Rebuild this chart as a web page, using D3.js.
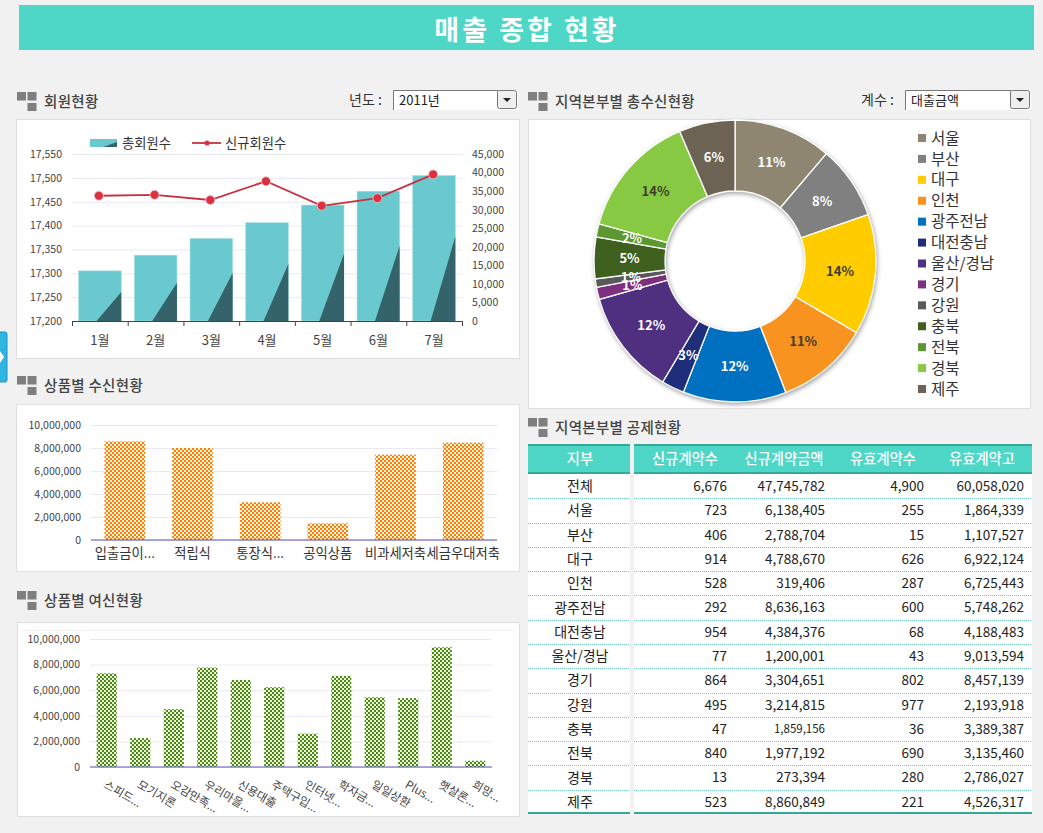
<!DOCTYPE html>
<html>
<head>
<meta charset="utf-8">
<script src="https://cdn.jsdelivr.net/npm/d3@7"></script>
<style>
    body { margin: 0; background: #f1f1f1; }
    svg { display: block; }
    text { font-family: "Noto Sans CJK KR", "Noto Sans", sans-serif; }
    .axis path { display: none; }
    .axis text { fill: #444; font-size: 10.5px; }
    .grid line { stroke: #e9e9f3; }
    .grid path { display: none; }
    .sec-title { font-size: 14.5px; font-weight: 500; fill: #444; letter-spacing: 0.3px; }
</style>
</head>
<body>
<div id="chart"></div>
<script>
// 회원현황
const months = ['1월', '2월', '3월', '4월', '5월', '6월', '7월'];
const totalMembers = [17305, 17338, 17373, 17406, 17443, 17472, 17505];
const newMembers = [33750, 34000, 32600, 37650, 31050, 33100, 39500];

// 지역본부별 총수신현황
const regions = ['서울', '부산', '대구', '인천', '광주전남', '대전충남', '울산/경남', '경기', '강원', '충북', '전북', '경북', '제주'];
const regionShares = [11.2, 8.4, 13.8, 10.6, 11.8, 2.6, 12, 1.4, 0.95, 4.75, 1.5, 14.3, 6.4];
const regionColors = ['#8f8672', '#808080', '#ffcc00', '#f9931f', '#0070c0', '#1f2e7a', '#4f2f80', '#7f2f80', '#58595b', '#3f5f1f', '#5c9731', '#88c944', '#6d6355'];
const darkLabelRegions = ['대구', '인천', '경북'];

// 상품별 수신현황
const depositNames = ['입출금이...', '적립식', '통장식...', '공익상품', '비과세저축', '세금우대저축'];
const depositValues = [8580000, 8000000, 3280000, 1450000, 7420000, 8460000];

// 상품별 여신현황
const loanNames = ['스피드...', '모기지론', '오감만족...', '우리마을...', '신용대출', '주택구입...', '인터넷...', '학자금...', '일일상환', 'Plus...', '햇살론...', '희망...'];
const loanValues = [7320000, 2260000, 4520000, 7770000, 6800000, 6230000, 2600000, 7120000, 5450000, 5380000, 9350000, 490000];

// 지역본부별 공제현황
const tableHeaders = ['지부', '신규계약수', '신규계약금액', '유효계약수', '유효계약고'];
const tableBranches = ['전체', '서울', '부산', '대구', '인천', '광주전남', '대전충남', '울산/경남', '경기', '강원', '충북', '전북', '경북', '제주'];
const newCounts = ['6,676', '723', '406', '914', '528', '292', '954', '77', '864', '495', '47', '840', '13', '523'];
const newAmounts = ['47,745,782', '6,138,405', '2,788,704', '4,788,670', '319,406', '8,636,163', '4,384,376', '1,200,001', '3,304,651', '3,214,815', '1,859,156', '1,977,192', '273,394', '8,860,849'];
const activeCounts = ['4,900', '255', '15', '626', '287', '600', '68', '43', '802', '977', '36', '690', '280', '221'];
const activeAmounts = ['60,058,020', '1,864,339', '1,107,527', '6,922,124', '6,725,443', '5,748,262', '4,188,483', '9,013,594', '8,457,139', '2,193,918', '3,389,387', '3,135,460', '2,786,027', '4,526,317'];

const svg = d3.select('#chart').append('svg')
    .attr('width', 1043)
    .attr('height', 833);

// checker patterns for the bars
const defs = svg.append('defs');
function checker(id, color, bg) {
    const p = defs.append('pattern')
        .attr('id', id)
        .attr('patternUnits', 'userSpaceOnUse')
        .attr('width', 4)
        .attr('height', 4);
    p.append('rect').attr('width', 4).attr('height', 4).attr('fill', bg);
    p.append('rect').attr('width', 2).attr('height', 2).attr('fill', color);
    p.append('rect').attr('x', 2).attr('y', 2).attr('width', 2).attr('height', 2).attr('fill', color);
}
checker('check-orange', '#ff8000', '#fff2e2');
checker('check-green', '#4a8a0c', '#eef6e2');

// title band
svg.append('rect')
    .attr('x', 19).attr('y', 5)
    .attr('width', 1015).attr('height', 45)
    .attr('fill', '#4ed6c6');
svg.append('text')
    .attr('x', 527).attr('y', 40)
    .attr('text-anchor', 'middle')
    .attr('fill', '#fff')
    .attr('font-size', 27)
    .attr('font-weight', 700)
    .attr('letter-spacing', 3)
    .text('매출 종합 현황');

function sectionTitle(x, y, label) {
    const g = svg.append('g').attr('transform', `translate(${x},${y})`);
    g.append('rect').attr('width', 9).attr('height', 8.5).attr('fill', '#7f7f7f');
    g.append('rect').attr('x', 10.5).attr('width', 9).attr('height', 8.5).attr('fill', '#7f7f7f');
    g.append('rect').attr('x', 10.5).attr('y', 11).attr('width', 9).attr('height', 8).attr('fill', '#7f7f7f');
    g.append('text').attr('class', 'sec-title').attr('x', 27).attr('y', 14.5).text(label);
}

function panel(x, y, w, h) {
    svg.append('rect')
        .attr('x', x + 0.5).attr('y', y + 0.5)
        .attr('width', w).attr('height', h)
        .attr('fill', '#fff')
        .attr('stroke', '#dedede');
}

function selectBox(labelX, boxX, boxW, y, label, value) {
    svg.append('text').attr('x', labelX).attr('y', y + 15).attr('font-size', 14).attr('fill', '#333').text(label);
    svg.append('rect').attr('x', boxX).attr('y', y).attr('width', boxW).attr('height', 20).attr('fill', '#fff');
    svg.append('path')
        .attr('d', `M${boxX + 0.5},${y + 20}V${y + 0.5}H${boxX + boxW - 20}`)
        .attr('fill', 'none').attr('stroke', '#777');
    svg.append('rect')
        .attr('x', boxX + boxW - 20.5).attr('y', y + 0.5)
        .attr('width', 19).attr('height', 18).attr('rx', 2)
        .attr('fill', '#efefef').attr('stroke', '#777');
    const cx = boxX + boxW - 11;
    svg.append('path')
        .attr('d', `M${cx - 4},${y + 8}h8l-4,4z`)
        .attr('fill', '#222');
    svg.append('text').attr('x', boxX + 6).attr('y', y + 14.5).attr('font-size', 13).attr('fill', '#222').text(value);
}

// left slide tab
svg.append('rect').attr('x', -4).attr('y', 332).attr('width', 11).attr('height', 50).attr('rx', 2)
    .attr('fill', '#2fb5e0').attr('stroke', '#1f8fc0');
svg.append('path').attr('d', 'M0,351l4,6l-4,6z').attr('fill', '#fff');

// ---- 회원현황 ----
sectionTitle(17, 92, '회원현황');
selectBox(349, 393, 125, 90, '년도 :', '2011년');
panel(16, 119, 503, 239);

const m1 = {left: 72, right: 462, top: 154, bottom: 321};
const x1 = d3.scaleBand().domain(months).range([m1.left, m1.right]).paddingInner(0.235).paddingOuter(0.12);
const y1 = d3.scaleLinear().domain([17200, 17550]).range([m1.bottom, m1.top]);
const y1r = d3.scaleLinear().domain([0, 45000]).range([m1.bottom, m1.top]);
const x1Step = d3.scaleBand().domain(months).range([m1.left, m1.right]);

svg.append('g')
    .attr('class', 'grid')
    .attr('transform', `translate(${m1.left},0)`)
    .call(d3.axisLeft(y1).ticks(7).tickSize(-(m1.right - m1.left)).tickFormat(''));

svg.append('g')
    .attr('class', 'axis')
    .attr('transform', `translate(${m1.left},0)`)
    .call(d3.axisLeft(y1).ticks(7).tickSize(0).tickPadding(10).tickFormat(d3.format(',')));

svg.append('g')
    .attr('class', 'axis')
    .attr('transform', `translate(${m1.right},0)`)
    .call(d3.axisRight(y1r).ticks(9).tickSize(0).tickPadding(10).tickFormat(d3.format(',')));

svg.append('g').selectAll('rect')
    .data(months)
    .join('rect')
    .attr('x', d => x1(d))
    .attr('y', (d, i) => y1(totalMembers[i]))
    .attr('width', x1.bandwidth())
    .attr('height', (d, i) => m1.bottom - y1(totalMembers[i]))
    .attr('fill', '#69c9cf')
    .attr('stroke', '#a8e0e2')
    .attr('stroke-width', 0.6);

// dark wedge in the corner of each bar
svg.append('g').selectAll('path')
    .data(months)
    .join('path')
    .attr('fill', '#35636a')
    .attr('d', (d, i) => {
        const left = x1(d), w = x1.bandwidth();
        const h = (m1.bottom - y1(totalMembers[i])) * 0.58;
        return `M${left + w * 0.42},${m1.bottom}L${left + w},${m1.bottom - h}V${m1.bottom}Z`;
    });

// x axis with ticks at the band edges
svg.append('line')
    .attr('x1', m1.left).attr('x2', m1.right)
    .attr('y1', m1.bottom + 0.5).attr('y2', m1.bottom + 0.5)
    .attr('stroke', '#444');
svg.append('g').selectAll('line')
    .data(months.concat(['end']))
    .join('line')
    .attr('x1', (d, i) => m1.left + i * x1Step.step() + 0.5)
    .attr('x2', (d, i) => m1.left + i * x1Step.step() + 0.5)
    .attr('y1', m1.bottom)
    .attr('y2', m1.bottom + 5)
    .attr('stroke', '#444');

const xAxis1 = svg.append('g')
    .attr('class', 'axis')
    .attr('transform', `translate(0,${m1.bottom + 9})`)
    .call(d3.axisBottom(x1Step).tickSize(0).tickPadding(6));
xAxis1.selectAll('text').style('font-size', '13px');

const line1 = d3.line()
    .x((d, i) => x1Step(months[i]) + x1Step.bandwidth() / 2 - 1)
    .y(d => y1r(d));

svg.append('path')
    .datum(newMembers)
    .attr('fill', 'none')
    .attr('stroke', '#c8323f')
    .attr('stroke-width', 1.8)
    .attr('d', line1);

svg.append('g').selectAll('circle')
    .data(newMembers)
    .join('circle')
    .attr('cx', (d, i) => x1Step(months[i]) + x1Step.bandwidth() / 2 - 1)
    .attr('cy', d => y1r(d))
    .attr('r', 4.5)
    .attr('fill', '#dc3040')
    .attr('stroke', '#f4c8c8')
    .attr('stroke-width', 0.8);

// legend
svg.append('rect').attr('x', 90).attr('y', 139).attr('width', 27).attr('height', 8).attr('fill', '#69c9cf');
svg.append('path').attr('d', 'M103,147L117,142V147Z').attr('fill', '#35636a');
svg.append('text').attr('x', 122).attr('y', 148).attr('font-size', 13.3).attr('fill', '#333').text('총회원수');
svg.append('line').attr('x1', 192).attr('x2', 221).attr('y1', 143).attr('y2', 143).attr('stroke', '#c8323f').attr('stroke-width', 1.8);
svg.append('circle').attr('cx', 207).attr('cy', 143).attr('r', 2.5).attr('fill', '#dc3040');
svg.append('text').attr('x', 225).attr('y', 148).attr('font-size', 13.3).attr('fill', '#333').text('신규회원수');

// ---- 상품별 수신 / 여신 ----
function barPanel(o) {
    const x = d3.scaleBand().domain(o.names).range([o.left, o.right]).paddingInner(o.pad).paddingOuter(o.pad / 2);
    const y = d3.scaleLinear().domain([0, 10000000]).range([o.bottom, o.top]);
    const xCenter = d3.scaleBand().domain(o.names).range([o.left, o.right]);

    svg.append('g')
        .attr('class', 'grid')
        .attr('transform', `translate(${o.left},0)`)
        .call(d3.axisLeft(y).ticks(5).tickSize(-(o.right - o.left)).tickFormat(''));

    svg.append('g')
        .attr('class', 'axis')
        .attr('transform', `translate(${o.left},0)`)
        .call(d3.axisLeft(y).ticks(5).tickSize(0).tickPadding(10).tickFormat(d3.format(',')));

    svg.append('g').selectAll('rect')
        .data(o.names)
        .join('rect')
        .attr('x', d => x(d))
        .attr('y', (d, i) => y(o.values[i]))
        .attr('width', x.bandwidth())
        .attr('height', (d, i) => o.bottom - y(o.values[i]))
        .attr('fill', `url(#${o.pattern})`);

    svg.append('line')
        .attr('x1', o.left).attr('x2', o.right)
        .attr('y1', o.bottom).attr('y2', o.bottom)
        .attr('stroke', '#5a55b0')
        .attr('stroke-width', 1.2);

    const ax = svg.append('g')
        .attr('class', 'axis')
        .attr('transform', `translate(0,${o.bottom})`)
        .call(d3.axisBottom(xCenter).tickSize(0).tickPadding(9));

    if (o.rotate) {
        ax.selectAll('text')
            .attr('text-anchor', 'start')
            .attr('x', 0)
            .attr('y', 0)
            .attr('dy', 0)
            .attr('transform', 'translate(-4,20) rotate(30)')
            .style('font-size', '11.5px');
    } else {
        ax.selectAll('text').style('font-size', '13.3px').style('fill', '#333');
    }
}

sectionTitle(17, 376, '상품별 수신현황');
panel(16, 404, 503, 167);
barPanel({
    names: depositNames, values: depositValues, pattern: 'check-orange',
    left: 91, right: 497, top: 425, bottom: 540, pad: 0.4
});

sectionTitle(17, 591, '상품별 여신현황');
panel(17, 622, 502, 194);
svg.append('line').attr('x1', 19).attr('x2', 517).attr('y1', 630.5).attr('y2', 630.5).attr('stroke', '#f3f3f3');
barPanel({
    names: loanNames, values: loanValues, pattern: 'check-green',
    left: 90, right: 492, top: 639, bottom: 767, pad: 0.4, rotate: true
});

// ---- 지역본부별 총수신현황 ----
sectionTitle(528, 92, '지역본부별 총수신현황');
selectBox(861, 905, 126, 90, '계수 :', '대출금액');
panel(528, 119, 502, 289);

const pieCx = 735, pieCy = 261;
const shareSum = d3.sum(regionShares);
const pie = d3.pie().sort(null).value(d => d);
const arc = d3.arc().innerRadius(70).outerRadius(141);
const pieG = svg.append('g').attr('transform', `translate(${pieCx},${pieCy})`);

pieG.append('g')
    .style('filter', 'drop-shadow(1px 2px 2px rgba(0,0,0,0.35))')
    .selectAll('path')
    .data(pie(regionShares))
    .join('path')
    .attr('d', arc)
    .attr('fill', (d, i) => regionColors[i])
    .attr('stroke', '#fff')
    .attr('stroke-width', 1.3);

pieG.selectAll('text')
    .data(pie(regionShares))
    .join('text')
    .attr('transform', d => `translate(${arc.centroid(d)})`)
    .attr('text-anchor', 'middle')
    .attr('dy', '0.36em')
    .attr('font-size', 13)
    .attr('font-weight', 700)
    .attr('fill', (d, i) => darkLabelRegions.includes(regions[i]) ? '#3d3d2a' : '#fff')
    .text(d => Math.round(d.value / shareSum * 100) + '%');

const legendY = d3.scalePoint().domain(regions).range([138, 389]);
const legend = svg.append('g').selectAll('g')
    .data(regions)
    .join('g')
    .attr('transform', d => `translate(918,${legendY(d)})`);
legend.append('rect')
    .attr('y', -4).attr('width', 8).attr('height', 8)
    .attr('fill', (d, i) => regionColors[i]);
legend.append('text')
    .attr('x', 13).attr('dy', '0.36em')
    .attr('font-size', 15.5)
    .attr('fill', '#333')
    .text(d => d);

// ---- 지역본부별 공제현황 ----
sectionTitle(528, 418, '지역본부별 공제현황');

const rowY = d3.scaleBand().domain(tableBranches).range([474, 814]);
const headerCenters = [580, 685, 784, 883, 982];
const colRights = [727, 825, 924, 1024];
const numColumns = [newCounts, newAmounts, activeCounts, activeAmounts];
const smallCells = ['1,859,156'];

[[528, 102], [634, 398]].forEach(([x, w]) => {
    svg.append('rect').attr('x', x).attr('y', 444).attr('width', w).attr('height', 30).attr('fill', '#4ed6c6');
    svg.append('rect').attr('x', x).attr('y', 444).attr('width', w).attr('height', 2).attr('fill', '#35a899');
    svg.append('rect').attr('x', x).attr('y', 472).attr('width', w).attr('height', 2).attr('fill', '#35a899');
    svg.append('rect').attr('x', x).attr('y', 474).attr('width', w).attr('height', 340).attr('fill', '#fff');
    svg.append('rect').attr('x', x).attr('y', 812).attr('width', w).attr('height', 2).attr('fill', '#35a899');
    svg.append('g').selectAll('line')
        .data(tableBranches.slice(0, -1))
        .join('line')
        .attr('x1', x).attr('x2', x + w)
        .attr('y1', d => Math.round(rowY(d) + rowY.bandwidth()) + 0.5)
        .attr('y2', d => Math.round(rowY(d) + rowY.bandwidth()) + 0.5)
        .attr('stroke', '#6cc4b8')
        .attr('stroke-dasharray', '1 1');
});

svg.append('g').selectAll('text')
    .data(tableHeaders)
    .join('text')
    .attr('x', (d, i) => headerCenters[i])
    .attr('y', 464)
    .attr('text-anchor', 'middle')
    .attr('font-size', 14.3)
    .attr('font-weight', 500)
    .attr('fill', '#fff')
    .text(d => d);

svg.append('g').selectAll('text')
    .data(tableBranches)
    .join('text')
    .attr('x', headerCenters[0])
    .attr('y', d => rowY(d) + rowY.bandwidth() / 2)
    .attr('dy', '0.36em')
    .attr('text-anchor', 'middle')
    .attr('font-size', 14)
    .attr('fill', '#222')
    .text(d => d);

numColumns.forEach((col, c) => {
    svg.append('g').selectAll('text')
        .data(col)
        .join('text')
        .attr('x', colRights[c])
        .attr('y', (d, i) => rowY(tableBranches[i]) + rowY.bandwidth() / 2)
        .attr('dy', '0.36em')
        .attr('text-anchor', 'end')
        .attr('font-size', d => smallCells.includes(d) ? 11.5 : 13.5)
        .attr('fill', '#222')
        .text(d => d);
});
</script>
</body>
</html>
